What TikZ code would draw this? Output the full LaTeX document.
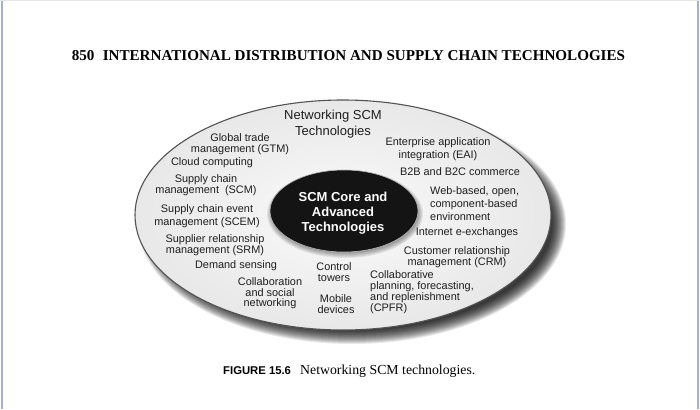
\documentclass[tikz,border=0pt]{standalone}
\usepackage{fontspec}
\setmainfont{Liberation Serif}
\setsansfont{Liberation Sans}
\definecolor{framec}{RGB}{168,176,198}
\definecolor{txt}{RGB}{30,30,30}
\tikzset{
  item/.style={font=\sffamily\fontsize{10.9}{11}\selectfont, text=txt, align=center, inner sep=0pt},
  tight/.style={font=\sffamily\fontsize{10.9}{10.5}\selectfont},
  loose/.style={font=\sffamily\fontsize{10.9}{13}\selectfont},
}
\begin{document}
\begin{tikzpicture}[x=1pt,y=-1pt]
\useasboundingbox (0,0) rectangle (700,409);
\fill[white] (0,0) rectangle (700,409);
% frame
\draw[framec, line width=2pt] (1.5,0) -- (1.5,409);
\draw[framec, line width=2pt] (697.5,0) -- (697.5,409);
\draw[gray!20, line width=1pt] (0,0.5) -- (700,0.5);
% title
\node[font=\fontsize{15.1}{17}\selectfont\bfseries, inner sep=0pt] (title) at (348.5,56)
  {850\hspace{0.55em}INTERNATIONAL DISTRIBUTION AND SUPPLY CHAIN TECHNOLOGIES};
% shadow of outer ellipse
\foreach \i in {0,...,14}{
  \fill[black, opacity=0.09] (352,224) ellipse [x radius=200+\i, y radius=106+\i];
}
% outer ellipse
\coordinate (outer) at (343,215);
\shade[inner color=gray!4, outer color=gray!18] (outer) ellipse [x radius=208, y radius=115];
\draw[gray!65!black, line width=1.1pt] (outer) ellipse [x radius=208, y radius=115];
% inner ellipse with soft shadow
\foreach \i in {0,...,5}{
  \fill[black, opacity=0.07] (345,214) ellipse [x radius=73+\i, y radius=39+\i];
}
\coordinate (inner) at (344,211);
\fill[black!92] (inner) ellipse [x radius=74, y radius=41];
\draw[gray!55, line width=0.6pt] (inner) ellipse [x radius=74, y radius=41];
\node[item, text=white, font=\sffamily\bfseries\fontsize{13}{15}\selectfont] (core) at (343,213)
  {SCM Core and\\Advanced\\Technologies};
% labels
\node[item, font=\sffamily\fontsize{13}{16.5}\selectfont] (net) at (333,124) {Networking SCM\\Technologies};
\node[item, tight] (gtm) at (240,144) {Global trade\\management (GTM)};
\node[item] (cloud) at (212,163) {Cloud computing};
\node[item] (scm) at (206,185.5) {Supply chain\\management\ \ (SCM)};
\node[item, loose] (scem) at (207,216.5) {Supply chain event\\management (SCEM)};
\node[item, tight] (srm) at (215,245) {Supplier relationship\\management (SRM)};
\node[item] (demand) at (236,266) {Demand sensing};
\node[item, tight] (collab) at (270,293.5) {Collaboration\\and social\\networking};
\node[item] (control) at (334,272.5) {Control\\towers};
\node[item] (mobile) at (336,304.5) {Mobile\\devices};
\node[item, align=left, anchor=west] (cpfr) at (370,292.5) {Collaborative\\planning, forecasting,\\and replenishment\\(CPFR)};
\node[item] (crm) at (457,257.5) {Customer relationship\\management (CRM)};
\node[item] (inet) at (467,233) {Internet e-exchanges};
\node[item, loose, align=left, anchor=west] (web) at (430,204) {Web-based, open,\\component-based\\environment};
\node[item] (b2b) at (460,172) {B2B and B2C commerce};
\node[item, loose] (eai) at (438,149.5) {Enterprise application\\integration (EAI)};
% caption
\node[anchor=base west, inner sep=0pt, font=\sffamily\bfseries\fontsize{11.3}{13}\selectfont] (fig) at (223,374) {FIGURE 15.6};
\node[anchor=base west, inner sep=0pt, font=\fontsize{13.8}{15}\selectfont] (cap) at (300,374) {Networking SCM technologies.};
\end{tikzpicture}
\end{document}
